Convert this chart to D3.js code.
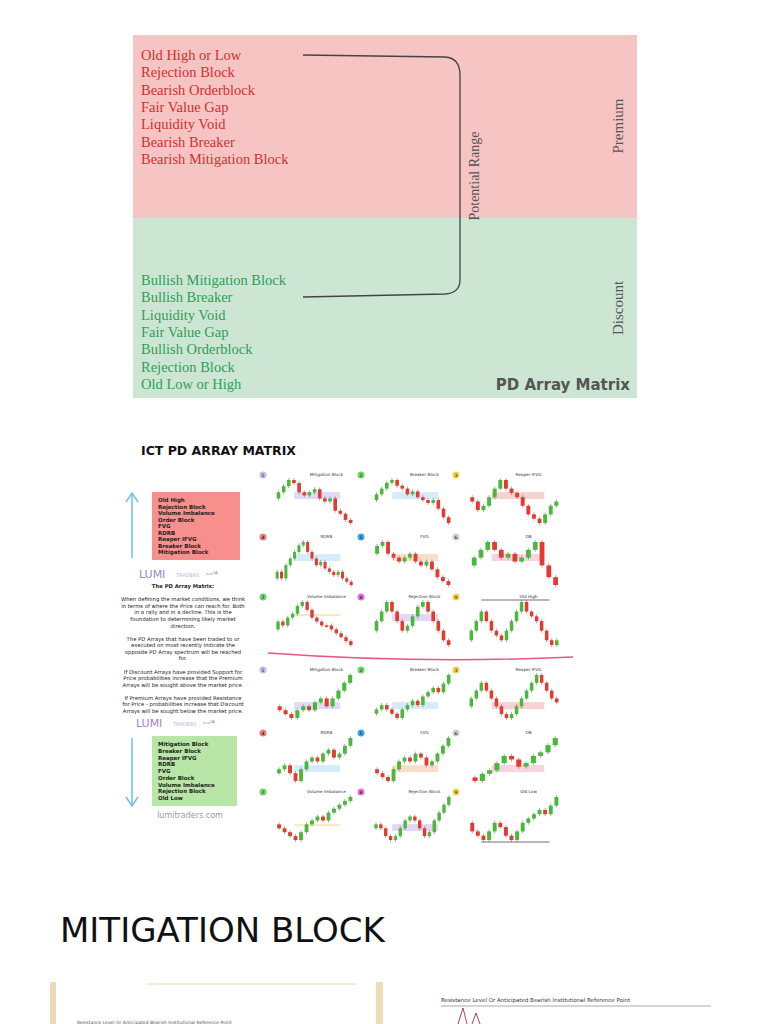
<!DOCTYPE html><html><head><meta charset="utf-8"><script src="https://cdn.jsdelivr.net/npm/d3@7"></script>
<style>body{margin:0;background:#fff}</style></head><body><svg id="c" width="768" height="1024"></svg>
<script>
const premiumItems=["Old High or Low","Rejection Block","Bearish Orderblock","Fair Value Gap","Liquidity Void","Bearish Breaker","Bearish Mitigation Block"];
const discountItems=["Bullish Mitigation Block","Bullish Breaker","Liquidity Void","Fair Value Gap","Bullish Orderblock","Rejection Block","Old Low or High"];
const redList=["Old High","Rejection Block","Volume Imbalance","Order Block","FVG","RDRB","Reaper IFVG","Breaker Block","Mitigation Block"];
const greenList=["Mitigation Block","Breaker Block","Reaper IFVG","RDRB","FVG","Order Block","Volume Imbalance","Rejection Block","Old Low"];
const paragraphs=[["The PD Array Matrix:"],["When defining the market conditions, we think","in terms of where the Price can reach for. Both","in a rally and in a decline. This is the","foundation to determining likely market","direction."],["The PD Arrays that have been traded to or","executed on most recently indicate the","opposite PD Array spectrum will be reached","for."],["If Discount Arrays have provided Support for","Price probabilities increase that the Premium","Arrays will be sought above the market price."],["If Premium Arrays have provided Resistance","for Price - probabilities increase that Discount","Arrays will be sought below the market price."]];
const bearLabels=["Mitigation Block","Breaker Block","Reaper IFVG","RDRB","FVG","OB","Volume Imbalance","Rejection Block","Old High"];
const bullLabels=["Mitigation Block","Breaker Block","Reaper IFVG","RDRB","FVG","OB","Volume Imbalance","Rejection Block","Old Low"];
const badgeColors=["#c9b6ea","#6fd36a","#f2d04a","#f07b7b","#3aa7f0","#cfcfcf","#6fd36a","#e86be0","#f2d04a"];
const bearSeries=[
[5,6,7,8,7.5,6,5.5,6,6.5,5,4.5,5,3,2.5,1.5,1],
[5,6,7,8,8.5,7.5,7,6,6.5,5.5,5,4.5,5,3.5,2,1],
[6,5.5,4.5,5,6,7,8,7,6.5,6,5,4,3.5,3,4,5,5.5],
[3,4,3,5,6,7,8,8.5,7,6,5,5.5,4.5,4,3.5,4,3,2.5,2],
[6,7,7.5,6,5.5,5,5.5,6,5,4.5,5,4,3,2.5,2],
[4,5,6,7,6,5,5.5,4.5,5,6,7,4,2.5,1.5],
[4,5,4.5,5.5,6,7,7.5,6.5,5.5,5,4.5,4.5,4,3.5,3,2.5,2],
[3,4,5,6,5,4,3,3.5,4.5,5.5,6,5,4,3,2,1.5],
[3,4,5,6,5,4,3.5,3,4,5,6,7,6,5.5,5,4,3,2.5,3]];
const bullSeries=[
[4,3.5,3,2.5,3.5,4,3.5,4.5,5,4,5,6,7,8],
[3,3.5,4,3.5,3,2.5,3.5,4,4.5,4,5,5.5,6,5.5,6.5,7.5],
[4,5,6,7,6,5,4,3,2.5,3,4,5,6,7,8,7,6,5,4.5],
[3,3.5,4,3,2,3.5,4.5,5,4.5,5.5,6,5,5.5,6.5,7.5],
[4,3.5,3,2.5,4,5,5.5,5,6,5.5,4.5,5,6,7,8],
[3,2.5,3.5,4,5,6,5.5,4.5,5,6,6.5,7.5,8.5],
[4,3.5,3,2.5,2,3,4,4.5,5,4.5,5.5,6,6.5,7,7.5],
[4,4.5,4,3,2.5,3,4,5,5.5,5,4,3,3.5,5,6,7,8],
[5,4,3.5,3,4,5,4.5,3.5,3,4,5,5.5,6,6.5,6,7,8]];
const svg=d3.select("#c");
const serif="'Liberation Serif',serif", sans="'DejaVu Sans',sans-serif";
svg.append("rect").attr("x",133).attr("y",35).attr("width",504).attr("height",183).attr("fill","#f7c4c4");
svg.append("rect").attr("x",133).attr("y",218).attr("width",504).attr("height",180).attr("fill","#cde6d4");
const yTop=d3.scalePoint().domain(premiumItems.map((d,i)=>i)).range([55,159]);
svg.selectAll(".pi").data(premiumItems).join("text").attr("x",141).attr("y",(d,i)=>yTop(i)+5).attr("font-family",serif).attr("font-size",14.5).attr("fill","#d0312d").text(d=>d);
const yBot=d3.scalePoint().domain(discountItems.map((d,i)=>i)).range([280,384]);
svg.selectAll(".di").data(discountItems).join("text").attr("x",141).attr("y",(d,i)=>yBot(i)+5).attr("font-family",serif).attr("font-size",14.5).attr("fill","#2f9e55").text(d=>d);
svg.append("path").attr("d","M303,55 L445,57 Q460,58 460,75 L460,280 Q460,293 445,294 L303,297").attr("fill","none").attr("stroke","#444").attr("stroke-width",1.3);
const rot=(x,y,t,fs,col)=>svg.append("text").attr("transform",`translate(${x},${y}) rotate(-90)`).attr("text-anchor","middle").attr("font-family",serif).attr("font-size",fs).attr("fill",col).text(t);
rot(479,176,"Potential Range",14,"#555");
rot(623,126,"Premium",15,"#555");
rot(623,308,"Discount",15,"#555");
svg.append("text").attr("x",630).attr("y",390).attr("text-anchor","end").attr("font-family",sans).attr("font-weight","bold").attr("font-size",15).attr("fill","#555").text("PD Array Matrix");
svg.append("text").attr("x",141).attr("y",455).attr("font-family",sans).attr("font-weight","bold").attr("font-size",12.5).attr("fill","#111").text("ICT PD ARRAY MATRIX");
function listBox(x,y,w,h,fill,items){svg.append("rect").attr("x",x).attr("y",y).attr("width",w).attr("height",h).attr("fill",fill);
 const s=d3.scalePoint().domain(items.map((d,i)=>i)).range([y+8,y+h-8]);
 svg.selectAll(null).data(items).join("text").attr("x",x+6).attr("y",(d,i)=>s(i)+2).attr("font-family",sans).attr("font-size",5.5).attr("font-weight","bold").attr("fill","#222").text(d=>d);}
listBox(152,492,88,68,"#f7908c",redList);
listBox(152,736,85,70,"#b8e6a6",greenList);
function arrow(x,y1,y2){svg.append("line").attr("x1",x).attr("x2",x).attr("y1",y1).attr("y2",y2).attr("stroke","#6ec1ee").attr("stroke-width",1.5);
 const d=y2<y1?-1:1; svg.append("path").attr("d",`M${x-6},${y2-d*9} L${x},${y2} L${x+6},${y2-d*9}`).attr("fill","none").attr("stroke","#6ec1ee").attr("stroke-width",1.5);}
arrow(132,558,493);arrow(132,738,806);
function lumi(x,y){svg.append("text").attr("x",x).attr("y",y).attr("font-family",sans).attr("font-size",11).attr("fill","#9b88c9").text("LUMI");
 svg.append("text").attr("x",x+37).attr("y",y-1).attr("font-family",sans).attr("font-size",5).attr("fill","#c0b3dd").text("TRADERS");
 svg.append("text").attr("x",x+67).attr("y",y-1).attr("font-family",sans).attr("font-size",8).attr("fill","#9b88c9").text("ꟷᴵᴬ");}
lumi(139,578);lumi(136,727);
let py=588;
paragraphs.forEach((p,pi)=>{p.forEach(l=>{svg.append("text").attr("x",183).attr("y",py).attr("text-anchor","middle").attr("font-family",sans).attr("font-size",5.3).attr("font-weight",pi==0?"bold":"normal").attr("fill","#222").text(l);py+=6.6;});py+=6.5;});
svg.append("text").attr("x",190).attr("y",818).attr("text-anchor","middle").attr("font-family",sans).attr("font-size",8).attr("fill","#999").text("lumitraders.com");
svg.append("path").attr("d","M268,653 Q420,664 573,657").attr("fill","none").attr("stroke","#e8577f").attr("stroke-width",1.5);
const colX=[262,360,455], colW=[92,92,105];
const bearRows=[470,532,592], bullRows=[665,728,787];
function mini(x,y,w,h,data,label,idx,bull){
 const g=svg.append("g");
 const xs=d3.scaleBand().domain(data.map((d,i)=>i)).range([x+8,x+w]).padding(0.3);
 const ys=d3.scaleLinear().domain(d3.extent(data)).range([y+h-3,y+10]);
 g.append("circle").attr("cx",x+1).attr("cy",y+5).attr("r",3.5).attr("fill",badgeColors[idx]);
 g.append("text").attr("x",x+1).attr("y",y+7).attr("text-anchor","middle").attr("font-size",4.5).attr("font-family",sans).text(idx+1);
 g.append("text").attr("x",x+w*0.7).attr("y",y+6).attr("text-anchor","middle").attr("font-size",4.2).attr("font-family",sans).attr("fill","#333").text(label);
 const zoneCols=["#d9d4f7","#cfe8fb","#f6c9c9","#cfe8fb","#fbd6c2","#f8cbd9","#fbe3b0","#ddd0f3","#444"];
 const [lo,hi]=d3.extent(data);
 if(idx<8){const zv=bull?lo+(hi-lo)*0.3:lo+(hi-lo)*0.65; g.append("rect").attr("x",x+w*0.35).attr("y",ys(zv)-3).attr("width",w*0.5).attr("height",idx==6?2:7).attr("fill",zoneCols[idx]).attr("opacity",0.85);}
 else{const lv=bull?lo:hi; g.append("line").attr("x1",x+w*0.25).attr("x2",x+w*0.9).attr("y1",ys(lv)+(bull?2:-2)).attr("y2",ys(lv)+(bull?2:-2)).attr("stroke","#333").attr("stroke-width",0.7);}
 data.forEach((c,i)=>{if(i==0)return;const o=data[i-1];const up=c>o;const cx=xs(i)+xs.bandwidth()/2;
  g.append("line").attr("x1",cx).attr("x2",cx).attr("y1",ys(Math.max(o,c))-2).attr("y2",ys(Math.min(o,c))+2).attr("stroke","#555").attr("stroke-width",0.5);
  g.append("rect").attr("x",xs(i)).attr("width",xs.bandwidth()).attr("y",ys(Math.max(o,c))).attr("height",Math.max(1.5,Math.abs(ys(o)-ys(c)))).attr("fill",up?"#49b83b":"#e53a2f");});
}
bearSeries.forEach((d,i)=>mini(colX[i%3],bearRows[Math.floor(i/3)],colW[i%3],56,d,bearLabels[i],i,false));
bullSeries.forEach((d,i)=>mini(colX[i%3],bullRows[Math.floor(i/3)],colW[i%3],56,d,bullLabels[i],i,true));
svg.append("text").attr("x",60).attr("y",942).attr("font-family",sans).attr("font-size",34).attr("fill","#111").text("MITIGATION BLOCK");
svg.append("rect").attr("x",50).attr("y",982).attr("width",6).attr("height",42).attr("fill","#ecdcb8");
svg.append("rect").attr("x",376).attr("y",982).attr("width",7).attr("height",42).attr("fill","#ecdcb8");
svg.append("line").attr("x1",146).attr("x2",357).attr("y1",984).attr("y2",984).attr("stroke","#ecdcb8");
svg.append("text").attr("x",77).attr("y",1024).attr("font-family",sans).attr("font-size",4.5).attr("fill","#555").text("Resistance Level Or Anticipated Bearish Institutional Reference Point");
svg.append("text").attr("x",441).attr("y",1002).attr("font-family",sans).attr("font-size",5.5).attr("fill","#333").text("Resistance Level Or Anticipated Bearish Institutional Reference Point");
svg.append("line").attr("x1",441).attr("x2",711).attr("y1",1006).attr("y2",1006).attr("stroke","#aaa");
svg.append("path").attr("d","M458,1024 L463,1008 L467,1024 M472,1024 L476,1013 L480,1024").attr("fill","none").attr("stroke","#8b1a2a").attr("stroke-width",0.8);
</script></body></html>
